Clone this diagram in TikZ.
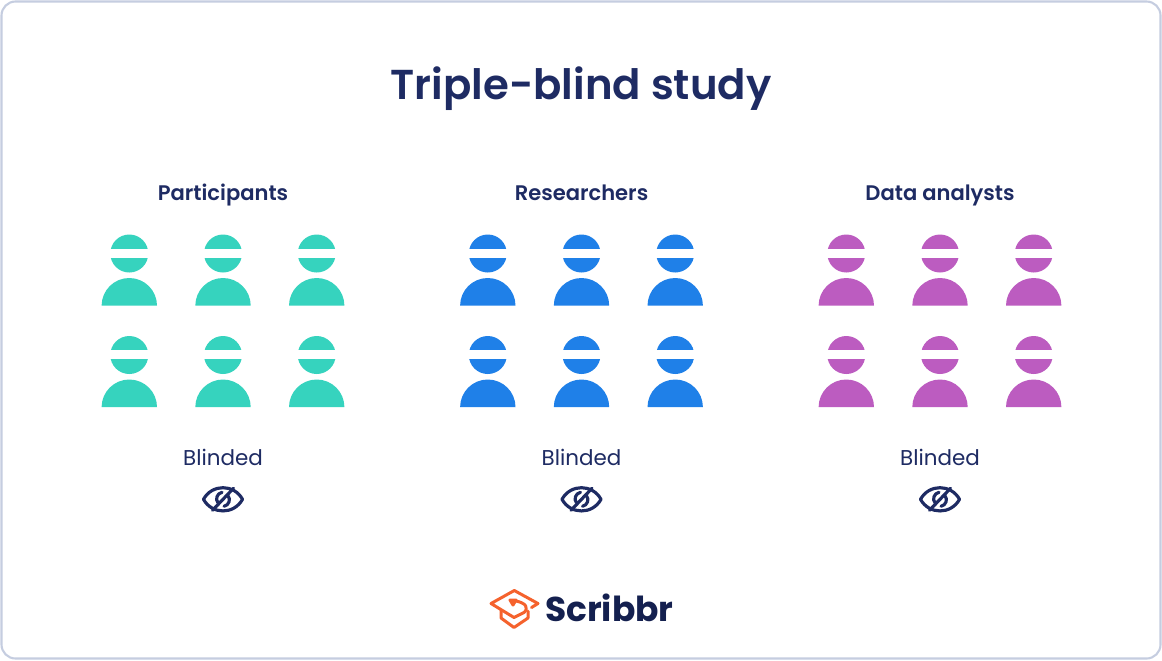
\documentclass[tikz,border=0pt]{standalone}
\usepackage{fontspec}
\setmainfont{Poppins}[BoldFont={Poppins SemiBold}]
\newfontfamily\logofont{Poppins Bold}
\usetikzlibrary{positioning}
\definecolor{navy}{HTML}{1E2B63}
\definecolor{inkdark}{HTML}{14204F}
\definecolor{framegrey}{HTML}{C5CDE0}
\definecolor{tealfig}{HTML}{36D3BE}
\definecolor{bluefig}{HTML}{1F80E8}
\definecolor{purplefig}{HTML}{BC5CC0}
\definecolor{orangelogo}{HTML}{F5622D}
\tikzset{
    title/.style={
           anchor=base,
           text=navy,
           font=\fontsize{23.8}{30}\selectfont\bfseries},
    grouptitle/.style={
           anchor=base,
           text=navy,
           font=\fontsize{12}{14}\selectfont\bfseries},
    status/.style={
           anchor=base,
           text=navy,
           font=\fontsize{12.2}{14}\selectfont},
    eyeline/.style={
           draw=navy,
           line width=1.8pt,
           line cap=round,
           line join=round},
    hatline/.style={
           draw=orangelogo,
           line width=1.7pt,
           line cap=round,
           line join=round},
    personfig/.pic={
        \fill[pic actions] (0,0) circle (19);
        \fill[white] (-21,-4.8) rectangle (21,4);
        \fill[pic actions] (-27.7,52.2) arc (180:360:27.7) -- cycle;
    },
    blindeye/.pic={
        \draw[eyeline] (-19.5,0) .. controls (-11,-15.5) and (11,-15.5) .. (19.5,0)
                               .. controls (11,15.5) and (-11,15.5) .. (-19.5,0) -- cycle;
        \draw[eyeline] (-10.5,11) -- (10.5,-11);
        \draw[eyeline] (-1,-7) .. controls (-6,-6) and (-8,0) .. (-5,3.5);
        \draw[eyeline] (1,7) .. controls (6,6) and (8,0) .. (5,-3.5);
    }
}
\begin{document}
\begin{tikzpicture}[x=0.02cm,y=-0.02cm]
    \useasboundingbox (0,0) rectangle (1162,660);
    \draw[framegrey, line width=1.2pt, fill=white, rounded corners=0.28cm] (1.5,1.5) rectangle (1160.5,658.5);
    \node[title] (heading) at (581,99) {Triple-blind study};

    \node[grouptitle] (participants) at (223,200) {Participants};
    \node[grouptitle] (researchers) at (581.5,200) {Researchers};
    \node[grouptitle] (analysts) at (940,200) {Data analysts};

    % one block of six for each group
    \foreach \cx/\col/\nm in {223/tealfig/a, 581.5/bluefig/b, 940/purplefig/c} {
        \foreach \dx in {-93.7,0,93.7} {
            \foreach \rowy in {253.5,355} {
                \pic[fill=\col] at (\cx+\dx,\rowy) {personfig};
            }
        }
        \node[status] (status\nm) at (\cx,465) {Blinded};
        \pic at (\cx,499.3) {blindeye};
    }

    % logo
    \draw[hatline] (531.5,607.5) -- (538,603.5) -- (514.3,590.5) -- (491,603.5) -- (514,617.5) -- (524,612.5);
    \draw[hatline] (501,610) -- (501,618) -- (514,627.5) -- (528,618) -- (528,611);
    \draw[hatline] (524,612.5) .. controls (529,608) and (526,603) .. (516,601);
    \draw[hatline] (513,605) -- (510,600) -- (516,600) -- cycle;
    \node[anchor=base west, text=inkdark, font=\fontsize{19.6}{22}\selectfont\logofont] (logo) at (539,621.5) {Scribbr};
\end{tikzpicture}
\end{document}
